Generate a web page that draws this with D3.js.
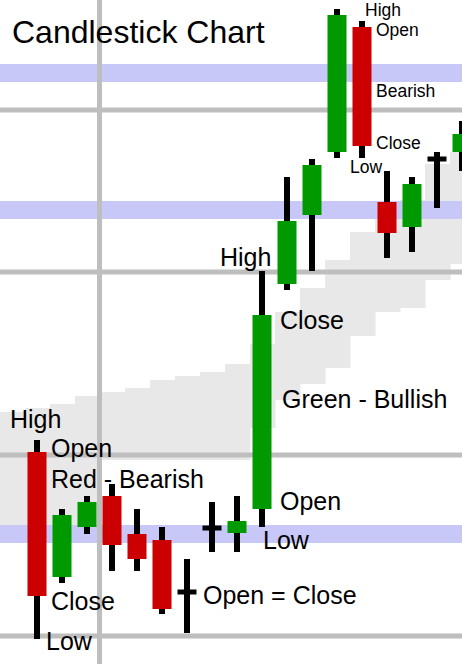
<!DOCTYPE html><html><head><meta charset="utf-8">
<script src="https://cdn.jsdelivr.net/npm/d3@7"></script>
<style>body{margin:0;background:#fff}svg{display:block}</style></head><body>
<script>
// price data (price units, y scale: 0..166 -> 664..0)
const idx    = [1,2,3,4,5,6,7,8,9,10,11,12,13,14,15,16,17,18];
const open   = [53,21.75,34.25,42,32.5,31,18,34,32.75,38.75,95,112.25,128,159.25,115.5,109.25,126.25,128];
const close  = [17,37.25,40.5,29.75,26.25,13.75,18,34,35.75,87.25,110.75,124.75,162.25,129.5,107.75,120,126.25,132.5];
const high   = [56,38.75,42,45,38.75,34.25,26.25,40.5,42,98.25,121.75,126.25,163.75,160.75,123.25,121.75,128,135.75];
const low    = [6.25,20.25,32.5,23.25,23.25,12.5,7.75,28,28,34.25,93.5,98.25,126.5,126.5,101.5,103,114,123.25];
// background staircase band (per column of width one step)
const bandX   = [0,1,2,3,4,5,6,7,8,9,10,11,12,13,14,15,16,17,18];
const bandTop = [63,64,65,67,68,69,71,72,73,75,80,88,94,101,108,115,116,125,128];
const bandBot = [34,34,34,34,51,51,51,51,51,51,59,66,70,74,82,88,89,96,100];
const gridH = [52.25,7,98,138.5];
const blueH = [147.75,113.5,32.5];
const gridV = [3.5];

const W=462,H=664;
const svg=d3.select("body").append("svg").attr("width",W).attr("height",H);
const y=d3.scaleLinear().domain([0,166]).range([H,0]);
const x=d3.scaleLinear().domain([0,1]).range([12,37]);
const step=x(1)-x(0);

svg.selectAll("rect.band").data(bandX).join("rect")
 .attr("x",d=>x(d)-12).attr("width",step+0.5)
 .attr("y",(d,i)=>y(bandTop[i])).attr("height",(d,i)=>y(bandBot[i])-y(bandTop[i]))
 .attr("fill","#e8e8e8");
svg.selectAll("rect.blue").data(blueH).join("rect")
 .attr("x",0).attr("width",W).attr("y",d=>y(d)-9).attr("height",18).attr("fill","#c8c8f8");
svg.selectAll("line.gh").data(gridH).join("line")
 .attr("x1",0).attr("x2",W).attr("y1",d=>y(d)).attr("y2",d=>y(d)).attr("stroke","#bebebe").attr("stroke-width",5);
svg.selectAll("line.gv").data(gridV).join("line")
 .attr("x1",d=>x(d)).attr("x2",d=>x(d)).attr("y1",0).attr("y2",H).attr("stroke","#bebebe").attr("stroke-width",5);

const col=i=>close[i]>open[i]?"#009900":(close[i]<open[i]?"#cc0000":"#000");
const g=svg.selectAll("g.c").data(idx).join("g");
g.append("line").attr("x1",d=>x(d)).attr("x2",d=>x(d))
 .attr("y1",(d,i)=>y(high[i])).attr("y2",(d,i)=>y(low[i])).attr("stroke","#000").attr("stroke-width",6);
g.append("rect").attr("x",d=>x(d)-9.5).attr("width",19)
 .attr("y",(d,i)=>y(Math.max(open[i],close[i])))
 .attr("height",(d,i)=>Math.max(5,Math.abs(y(open[i])-y(close[i]))))
 .attr("transform",(d,i)=>open[i]===close[i]?"translate(0,-2.5)":null)
 .attr("fill",(d,i)=>col(i));

const labels=[
 ["Candlestick Chart",12,43,32],
 ["High",10,428,25],["Open",51,457,25],["Red - Bearish",51,488,25],["Close",51,610,25],["Low",46,650,25],
 ["Open = Close",203,604,25],
 ["High",220,266,25],["Close",280,329,25],["Green - Bullish",282,408,25],["Open",280,510,25],["Low",263,549,25],
 ["High",365,16,17.5],["Open",376,36,17.5],["Bearish",376,97,17.5],["Close",376,149,17.5],["Low",350,173,17.5]
];
svg.selectAll("text").data(labels).join("text")
 .attr("x",d=>d[1]).attr("y",d=>d[2]).attr("font-size",d=>d[3])
 .attr("font-family","Liberation Sans, Arial, sans-serif").attr("fill","#000").text(d=>d[0]);
</script></body></html>
